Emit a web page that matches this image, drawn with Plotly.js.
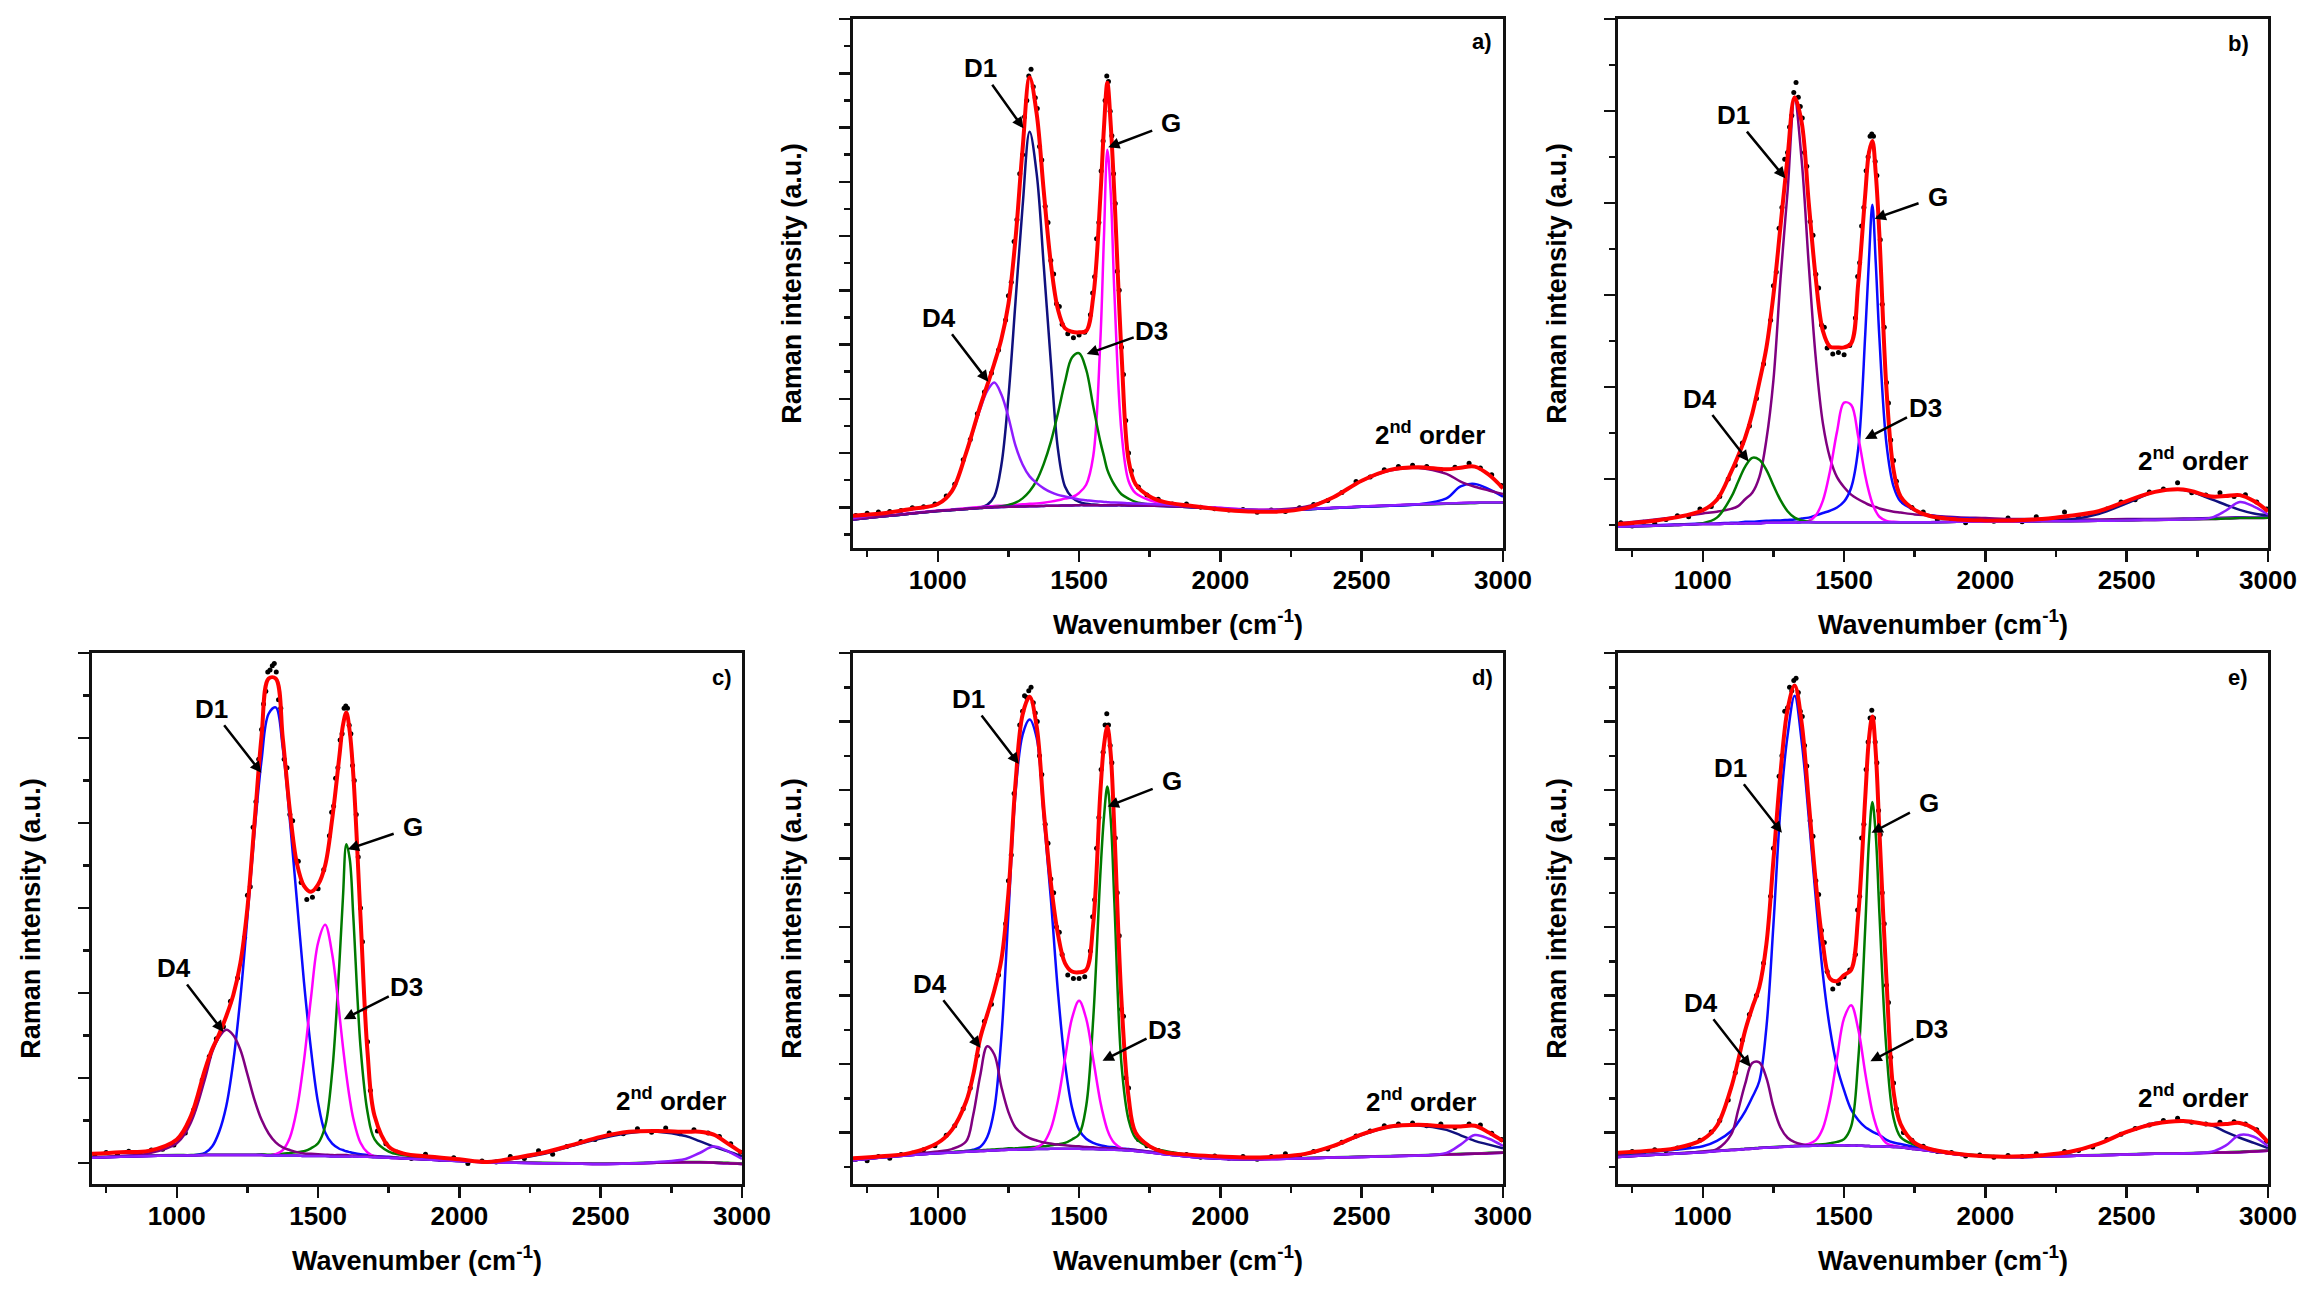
<!DOCTYPE html>
<html>
<head>
<meta charset="utf-8">
<script src="https://cdn.plot.ly/plotly-3.0.1.min.js"></script>
<style>
  html, body { margin: 0; padding: 0; background: #ffffff; }
  #chart { width: 2317px; height: 1294px; }
</style>
</head>
<body>
<div id="chart"></div>
<script>
// Raman spectra (700-3000 cm-1) with peak deconvolution: D4, D1, D3, G and second-order bands.
// Fitted curves are sampled on a common wavenumber grid; band values are heights above the fitted baseline.
const wavenumber = [
  700, 800, 900, 1000, 1050, 1100, 1125, 1150, 1175, 1200,
  1225, 1250, 1275, 1300, 1325, 1350, 1375, 1400, 1425, 1450,
  1475, 1500, 1525, 1550, 1575, 1588, 1600, 1612, 1625, 1650,
  1675, 1700, 1750, 1800, 1900, 2000, 2100, 2200, 2300, 2400,
  2500, 2600, 2700, 2800, 2850, 2900, 2950, 3000];
const tickValues = [1000, 1500, 2000, 2500, 3000];
const tickLabels = ['1000', '1500', '2000', '2500', '3000'];
const minorTickValues = [750, 1250, 1750, 2250, 2750];

// measured points, whole range
const dotWavenumber = [
  710, 750, 790, 830, 870, 910, 950, 990, 1030, 1060,
  1090, 1115, 1140, 1165, 1190, 1215, 1240, 1260, 1280, 1300,
  1315, 1330, 1345, 1360, 1380, 1400, 1420, 1440, 1460, 1480,
  1500, 1520, 1540, 1555, 1570, 1585, 1598, 1610, 1622, 1635,
  1650, 1665, 1685, 1710, 1740, 1780, 1830, 1880, 1930, 1980,
  2030, 2080, 2130, 2180, 2230, 2280, 2330, 2380, 2430, 2480,
  2530, 2580, 2630, 2680, 2730, 2780, 2830, 2880, 2920, 2960,
  2995];
// extra measured points on the flanks of the D1 and G peaks
const peakDotWavenumber = [
  1250, 1270, 1290, 1307, 1322, 1338, 1352, 1368, 1390, 1410,
  1430, 1548, 1562, 1578, 1592, 1604, 1616, 1628, 1642, 1657,
  1675];

// ---------- sample a ----------
const aBase = [
  -0.45, -0.34, -0.24, -0.14, -0.1, -0.06, -0.04, -0.03, -0.01, 0,
  0.01, 0.02, 0.02, 0.03, 0.04, 0.04, 0.05, 0.06, 0.06, 0.07,
  0.07, 0.08, 0.08, 0.08, 0.08, 0.08, 0.08, 0.08, 0.08, 0.08,
  0.07, 0.07, 0.06, 0.05, 0, -0.05, -0.1, -0.11, -0.08, -0.03,
  0.02, 0.06, 0.1, 0.13, 0.15, 0.16, 0.17, 0.17];
const aFit = [
  -0.31, -0.23, -0.07, 0.12, 0.6, 2.0, 2.85, 3.72, 4.5, 5.3,
  6.2, 7.5, 9.9, 13.2, 15.85, 14.5, 11.65, 9.0, 7.3, 6.6,
  6.47, 6.45, 6.5, 7.75, 11.4, 14.0, 15.65, 14.1, 11.5, 5.7,
  1.75, 0.85, 0.4, 0.2, 0.05, -0.08, -0.15, -0.16, -0.04, 0.37,
  0.98, 1.38, 1.48, 1.4, 1.46, 1.5, 1.2, 0.7];
const aD1 = [
  0, 0, 0, 0, 0, 0, 0, 0.02, 0.1, 0.4,
  1.55, 4.05, 7.55, 11.05, 13.8, 12.25, 8.85, 5.3, 2.1, 0.7,
  0.3, 0.12, 0.05, 0.02, 0, 0, 0, 0, 0, 0,
  0, 0, 0, 0, 0, 0, 0, 0, 0, 0,
  0, 0, 0, 0, 0, 0, 0, 0];
const aD4 = [
  0.05, 0.1, 0.15, 0.26, 0.7, 2.06, 2.85, 3.65, 4.3, 4.6,
  4.15, 3.3, 2.25, 1.55, 1.1, 0.85, 0.65, 0.5, 0.4, 0.33,
  0.27, 0.21, 0.18, 0.15, 0.13, 0.12, 0.11, 0.1, 0.1, 0.09,
  0.08, 0.07, 0.06, 0.05, 0.03, 0.02, 0.01, 0.01, 0.01, 0.01,
  0.01, 0.01, 0.01, 0.01, 0.01, 0.01, 0.01, 0.01];
const aD3 = [
  0, 0, 0, 0, 0, 0, 0, 0, 0, 0.01,
  0.03, 0.07, 0.15, 0.3, 0.55, 0.95, 1.55, 2.35, 3.4, 4.55,
  5.45, 5.6, 5.0, 3.65, 2.35, 1.8, 1.3, 1.0, 0.75, 0.4,
  0.25, 0.13, 0.04, 0.01, 0, 0, 0, 0, 0, 0,
  0, 0, 0, 0, 0, 0, 0, 0];
const aG = [
  0.01, 0.01, 0.02, 0.02, 0.02, 0.03, 0.03, 0.04, 0.04, 0.05,
  0.05, 0.06, 0.07, 0.08, 0.09, 0.1, 0.12, 0.15, 0.2, 0.25,
  0.3, 0.45, 0.75, 1.8, 6.0, 9.9, 13.1, 11.5, 7.8, 2.7,
  0.9, 0.45, 0.2, 0.1, 0.05, 0.03, 0.02, 0.02, 0.01, 0.01,
  0.01, 0.01, 0.01, 0.01, 0.01, 0.01, 0.01, 0.01];
const aS1 = [
  0, 0, 0, 0, 0, 0, 0, 0, 0, 0,
  0, 0, 0, 0, 0, 0, 0, 0, 0, 0,
  0, 0, 0, 0, 0, 0, 0, 0, 0, 0,
  0, 0, 0, 0, 0, 0, 0, 0.03, 0.1, 0.4,
  0.95, 1.3, 1.35, 1.1, 0.8, 0.6, 0.45, 0.32];
const aS2 = [
  0, 0, 0, 0, 0, 0, 0, 0, 0, 0,
  0, 0, 0, 0, 0, 0, 0, 0, 0, 0,
  0, 0, 0, 0, 0, 0, 0, 0, 0, 0,
  0, 0, 0, 0, 0, 0, 0, 0, 0, 0,
  0, 0, 0.01, 0.2, 0.62, 0.7, 0.5, 0.22];
const aDots = [
  -0.3, -0.22, -0.17, -0.15, -0.12, -0.02, 0.02, 0.12, 0.42, 0.85,
  1.75, 2.5, 3.45, 4.25, 4.95, 5.8, 6.9, 8.3, 10.6, 13.0,
  15.0, 16.15, 15.1, 13.3, 11.1, 9.1, 7.5, 6.75, 6.4, 6.25,
  6.35, 6.45, 7.1, 8.5, 10.5, 13.5, 15.9, 14.6, 12.3, 8.7,
  5.9, 3.2, 1.35, 0.75, 0.45, 0.3, 0.12, 0.12, 0.0, -0.05,
  -0.1, -0.08, -0.18, -0.1, -0.15, -0.02, 0.1, 0.25, 0.55, 0.95,
  1.12, 1.38, 1.5, 1.55, 1.5, 1.38, 1.48, 1.62, 1.45, 1.2,
  0.8];
const aPeakDots = [
  7.8, 9.8, 12.3, 14.4, 15.9, 15.5, 14.7, 12.8, 10.5, 8.6,
  7.4, 7.9, 9.9, 12.4, 15.0, 15.7, 13.7, 11.2, 8.0, 4.9,
  2.0];

// ---------- sample b ----------
const bBase = [
  -0.04, -0.02, 0, 0.02, 0.02, 0.03, 0.03, 0.04, 0.04, 0.04,
  0.05, 0.05, 0.05, 0.05, 0.05, 0.06, 0.06, 0.06, 0.06, 0.06,
  0.06, 0.06, 0.06, 0.06, 0.06, 0.06, 0.06, 0.06, 0.06, 0.06,
  0.06, 0.06, 0.06, 0.06, 0.07, 0.07, 0.07, 0.08, 0.08, 0.09,
  0.1, 0.11, 0.12, 0.13, 0.14, 0.15, 0.15, 0.16];
const bFit = [
  0.02, 0.07, 0.16, 0.32, 0.55, 1.15, 1.5, 1.9, 2.42, 3.1,
  3.85, 5.0, 6.5, 8.0, 9.3, 8.75, 7.0, 5.35, 4.22, 3.88,
  3.86, 3.86, 3.95, 5.25, 7.2, 8.1, 8.35, 7.65, 6.3, 2.95,
  1.2, 0.62, 0.33, 0.2, 0.12, 0.1, 0.1, 0.13, 0.2, 0.3,
  0.52, 0.72, 0.77, 0.62, 0.63, 0.65, 0.52, 0.3];
const bD1 = [
  0.08, 0.12, 0.17, 0.23, 0.27, 0.32, 0.38, 0.52, 0.66, 1.0,
  1.8, 3.1, 5.3, 7.2, 9.2, 7.86, 5.6, 3.55, 2.15, 1.4,
  0.98, 0.76, 0.6, 0.5, 0.42, 0.38, 0.35, 0.33, 0.3, 0.26,
  0.23, 0.21, 0.17, 0.15, 0.1, 0.08, 0.06, 0.05, 0.04, 0.03,
  0.03, 0.02, 0.02, 0.02, 0.02, 0.02, 0.01, 0.01];
const bD4 = [
  0, 0, 0, 0.02, 0.14, 0.57, 0.91, 1.23, 1.42, 1.38,
  1.15, 0.81, 0.49, 0.25, 0.11, 0.04, 0.01, 0, 0, 0,
  0, 0, 0, 0, 0, 0, 0, 0, 0, 0,
  0, 0, 0, 0, 0, 0, 0, 0, 0, 0,
  0, 0, 0, 0, 0, 0, 0, 0];
const bD3 = [
  0, 0, 0, 0, 0, 0, 0, 0, 0, 0,
  0, 0, 0, 0, 0, 0.01, 0.03, 0.15, 0.47, 1.11,
  1.97, 2.6, 2.55, 1.86, 1.01, 0.66, 0.41, 0.24, 0.12, 0.03,
  0.01, 0, 0, 0, 0, 0, 0, 0, 0, 0,
  0, 0, 0, 0, 0, 0, 0, 0];
const bG = [
  0.01, 0.01, 0.01, 0.01, 0.01, 0.02, 0.02, 0.03, 0.03, 0.04,
  0.04, 0.05, 0.05, 0.06, 0.07, 0.08, 0.1, 0.15, 0.2, 0.25,
  0.32, 0.45, 0.75, 1.6, 4.1, 5.7, 6.9, 5.65, 4.0, 1.7,
  0.78, 0.45, 0.26, 0.16, 0.08, 0.05, 0.03, 0.02, 0.01, 0.01,
  0.01, 0.01, 0.01, 0.01, 0.01, 0.01, 0.01, 0.01];
const bS1 = [
  0, 0, 0, 0, 0, 0, 0, 0, 0, 0,
  0, 0, 0, 0, 0, 0, 0, 0, 0, 0,
  0, 0, 0, 0, 0, 0, 0, 0, 0, 0,
  0, 0, 0, 0, 0, 0, 0, 0.01, 0.04, 0.15,
  0.37, 0.61, 0.64, 0.43, 0.3, 0.18, 0.1, 0.05];
const bS2 = [
  0, 0, 0, 0, 0, 0, 0, 0, 0, 0,
  0, 0, 0, 0, 0, 0, 0, 0, 0, 0,
  0, 0, 0, 0, 0, 0, 0, 0, 0, 0,
  0, 0, 0, 0, 0, 0, 0, 0, 0, 0,
  0, 0, 0, 0.03, 0.17, 0.35, 0.25, 0.07];
const bDots = [
  0.05, -0.02, 0.06, 0.03, 0.12, 0.2, 0.18, 0.35, 0.4, 0.62,
  1.0, 1.3, 1.78, 2.15, 2.75, 3.5, 4.45, 5.5, 6.9, 8.1,
  8.9, 9.62, 9.1, 8.1, 6.6, 5.45, 4.35, 3.85, 3.72, 3.75,
  3.7, 3.9, 4.5, 5.7, 6.9, 8.0, 8.5, 7.9, 6.7, 4.8,
  3.1, 1.85, 0.95, 0.5, 0.38, 0.28, 0.12, 0.1, 0.05, 0.12,
  0.08, 0.15, 0.07, 0.18, 0.12, 0.28, 0.16, 0.25, 0.35, 0.5,
  0.55, 0.72, 0.78, 0.92, 0.7, 0.65, 0.7, 0.62, 0.66, 0.5,
  0.35];
const bPeakDots = [
  5.2, 6.45, 7.95, 8.65, 9.4, 9.3, 8.85, 7.8, 6.3, 5.15,
  4.3, 5.4, 6.5, 7.7, 8.45, 8.45, 7.6, 6.2, 4.3, 2.65,
  1.4];

// ---------- sample c ----------
const cBase = [
  0.12, 0.14, 0.16, 0.17, 0.17, 0.18, 0.18, 0.18, 0.18, 0.18,
  0.18, 0.18, 0.18, 0.18, 0.17, 0.17, 0.17, 0.17, 0.17, 0.16,
  0.16, 0.16, 0.16, 0.15, 0.15, 0.15, 0.15, 0.15, 0.15, 0.14,
  0.14, 0.13, 0.12, 0.1, 0.07, 0.04, 0.01, 0, -0.01, -0.02,
  -0.03, -0.02, 0, 0.01, 0.01, 0, -0.01, -0.03];
const cFit = [
  0.21, 0.25, 0.28, 0.55, 1.1, 2.2, 2.67, 3.03, 3.45, 3.95,
  4.7, 6.0, 8.0, 10.05, 11.4, 11.4, 10.0, 8.3, 7.05, 6.52,
  6.38, 6.55, 7.0, 8.1, 9.55, 10.3, 10.6, 10.15, 9.1, 5.8,
  2.6, 1.1, 0.38, 0.22, 0.14, 0.08, 0.02, 0.12, 0.24, 0.42,
  0.61, 0.73, 0.75, 0.73, 0.73, 0.66, 0.45, 0.23];
const cD1 = [
  0, 0, 0, 0, 0, 0.05, 0.2, 0.55, 1.15, 2.2,
  3.7, 5.6, 7.6, 9.3, 10.4, 10.55, 9.6, 7.9, 6.0, 4.1,
  2.5, 1.25, 0.55, 0.3, 0.18, 0.15, 0.12, 0.1, 0.08, 0.06,
  0.04, 0.03, 0.02, 0.01, 0, 0, 0, 0, 0, 0,
  0, 0, 0, 0, 0, 0, 0, 0];
const cD4 = [
  0.01, 0.02, 0.06, 0.29, 0.78, 1.8, 2.42, 2.78, 2.95, 2.82,
  2.48, 1.9, 1.3, 0.83, 0.52, 0.31, 0.19, 0.13, 0.08, 0.06,
  0.05, 0.04, 0.03, 0.03, 0.03, 0.03, 0.03, 0.02, 0.02, 0.02,
  0.02, 0.02, 0.01, 0.01, 0.01, 0, 0, 0, 0, 0,
  0, 0, 0, 0, 0, 0, 0, 0];
const cD3 = [
  0, 0, 0, 0, 0, 0, 0, 0, 0, 0,
  0, 0, 0, 0, 0, 0.03, 0.13, 0.42, 1.09, 2.24,
  3.73, 5.02, 5.44, 4.76, 3.37, 2.58, 1.92, 1.36, 0.88, 0.33,
  0.1, 0.02, 0, 0, 0, 0, 0, 0, 0, 0,
  0, 0, 0, 0, 0, 0, 0, 0];
const cG = [
  0.01, 0.01, 0.01, 0.01, 0.01, 0.01, 0.01, 0.01, 0.01, 0.01,
  0.01, 0.01, 0.01, 0.02, 0.02, 0.03, 0.04, 0.06, 0.08, 0.11,
  0.18, 0.3, 0.7, 2.0, 4.5, 6.1, 7.35, 7.0, 5.6, 2.6,
  1.05, 0.42, 0.14, 0.08, 0.03, 0.02, 0.01, 0.01, 0.01, 0.01,
  0.01, 0.01, 0.01, 0.01, 0.01, 0.01, 0.01, 0.01];
const cS1 = [
  0, 0, 0, 0, 0, 0, 0, 0, 0, 0,
  0, 0, 0, 0, 0, 0, 0, 0, 0, 0,
  0, 0, 0, 0, 0, 0, 0, 0, 0, 0,
  0, 0, 0, 0, 0, 0, 0.02, 0.1, 0.22, 0.42,
  0.6, 0.72, 0.73, 0.62, 0.5, 0.38, 0.28, 0.18];
const cS2 = [
  0, 0, 0, 0, 0, 0, 0, 0, 0, 0,
  0, 0, 0, 0, 0, 0, 0, 0, 0, 0,
  0, 0, 0, 0, 0, 0, 0, 0, 0, 0,
  0, 0, 0, 0, 0, 0, 0, 0, 0, 0,
  0, 0, 0.02, 0.08, 0.22, 0.38, 0.28, 0.12];
const cDots = [
  0.18, 0.24, 0.2, 0.27, 0.22, 0.3, 0.32, 0.42, 0.7, 1.25,
  1.95, 2.5, 2.92, 3.2, 3.8, 4.35, 5.3, 6.5, 8.5, 10.2,
  11.1, 11.6, 11.75, 10.9, 9.5, 8.2, 7.1, 6.6, 6.2, 6.25,
  6.45, 6.9, 7.7, 8.4, 9.3, 10.1, 10.75, 10.3, 9.35, 8.2,
  6.0, 3.6, 1.7, 0.75, 0.45, 0.25, 0.1, 0.2, 0.08, 0.12,
  -0.02, 0.04, 0.02, 0.15, 0.1, 0.28, 0.2, 0.38, 0.5, 0.55,
  0.7, 0.68, 0.8, 0.72, 0.82, 0.68, 0.78, 0.7, 0.62, 0.45,
  0.25];
const cPeakDots = [
  6.3, 7.9, 9.5, 10.8, 11.55, 11.7, 11.55, 10.7, 9.3, 8.05,
  7.1, 8.25, 9.05, 9.95, 10.7, 10.7, 10.1, 9.0, 7.2, 5.2,
  2.85];

// ---------- sample d ----------
const dBase = [
  0.19, 0.27, 0.34, 0.4, 0.42, 0.44, 0.45, 0.46, 0.47, 0.48,
  0.49, 0.5, 0.5, 0.51, 0.51, 0.52, 0.52, 0.53, 0.53, 0.53,
  0.53, 0.53, 0.52, 0.52, 0.51, 0.51, 0.5, 0.5, 0.5, 0.49,
  0.48, 0.46, 0.42, 0.37, 0.29, 0.24, 0.22, 0.23, 0.25, 0.27,
  0.29, 0.31, 0.33, 0.36, 0.37, 0.38, 0.4, 0.41];
const dFit = [
  0.25, 0.31, 0.4, 0.7, 1.08, 1.9, 2.67, 3.75, 4.45, 5.15,
  6.05, 8.0, 11.2, 13.2, 13.72, 12.85, 10.4, 8.3, 6.8, 5.95,
  5.7, 5.68, 5.75, 7.1, 10.9, 12.3, 12.85, 12.05, 9.8, 4.85,
  2.05, 1.0, 0.6, 0.43, 0.35, 0.3, 0.27, 0.3, 0.38, 0.61,
  0.95, 1.18, 1.23, 1.18, 1.18, 1.2, 1.0, 0.75];
const dD1 = [
  0, 0, 0, 0, 0, 0.02, 0.05, 0.12, 0.4, 1.2,
  3.3, 6.9, 10.4, 12.1, 12.55, 12.0, 9.7, 7.3, 4.6, 2.5,
  1.2, 0.55, 0.3, 0.18, 0.12, 0.1, 0.09, 0.08, 0.07, 0.05,
  0.04, 0.03, 0.02, 0.01, 0, 0, 0, 0, 0, 0,
  0, 0, 0, 0, 0, 0, 0, 0];
const dD4 = [
  0.01, 0.02, 0.03, 0.05, 0.1, 0.3, 1.05, 2.2, 3.05, 2.8,
  1.85, 1.1, 0.65, 0.45, 0.33, 0.25, 0.19, 0.15, 0.12, 0.1,
  0.08, 0.07, 0.06, 0.05, 0.04, 0.04, 0.04, 0.04, 0.04, 0.03,
  0.03, 0.03, 0.02, 0.02, 0.01, 0.01, 0, 0, 0, 0,
  0, 0, 0, 0, 0, 0, 0, 0];
const dD3 = [
  0, 0, 0, 0, 0, 0, 0, 0, 0, 0,
  0, 0, 0, 0, 0.01, 0.05, 0.19, 0.58, 1.4, 2.62,
  3.81, 4.32, 3.81, 2.62, 1.4, 0.92, 0.58, 0.35, 0.19, 0.05,
  0.01, 0, 0, 0, 0, 0, 0, 0, 0, 0,
  0, 0, 0, 0, 0, 0, 0, 0];
const dG = [
  0.01, 0.01, 0.01, 0.01, 0.01, 0.02, 0.02, 0.02, 0.03, 0.03,
  0.03, 0.04, 0.04, 0.05, 0.06, 0.07, 0.08, 0.1, 0.13, 0.17,
  0.27, 0.42, 1.25, 3.8, 8.0, 9.7, 10.6, 9.65, 7.2, 2.5,
  0.9, 0.38, 0.16, 0.1, 0.05, 0.03, 0.02, 0.01, 0.01, 0.01,
  0.01, 0.01, 0.01, 0.01, 0.01, 0.01, 0.01, 0.01];
const dS1 = [
  0, 0, 0, 0, 0, 0, 0, 0, 0, 0,
  0, 0, 0, 0, 0, 0, 0, 0, 0, 0,
  0, 0, 0, 0, 0, 0, 0, 0, 0, 0,
  0, 0, 0, 0, 0, 0, 0, 0.03, 0.12, 0.33,
  0.64, 0.85, 0.88, 0.72, 0.55, 0.38, 0.25, 0.13];
const dS2 = [
  0, 0, 0, 0, 0, 0, 0, 0, 0, 0,
  0, 0, 0, 0, 0, 0, 0, 0, 0, 0,
  0, 0, 0, 0, 0, 0, 0, 0, 0, 0,
  0, 0, 0, 0, 0, 0, 0, 0, 0, 0,
  0, 0, 0, 0.05, 0.28, 0.55, 0.42, 0.2];
const dDots = [
  0.22, 0.18, 0.3, 0.25, 0.36, 0.4, 0.5, 0.62, 0.92, 1.2,
  1.7, 2.3, 3.25, 4.25, 4.75, 5.6, 7.1, 9.1, 11.9, 13.3,
  13.7, 14.0, 13.25, 12.0, 10.0, 8.4, 7.0, 6.2, 5.6, 5.5,
  5.5, 5.55, 6.3, 7.8, 10.2, 12.1, 13.23, 12.3, 10.6, 8.0,
  4.6, 2.6, 1.3, 0.8, 0.62, 0.48, 0.38, 0.36, 0.28, 0.32,
  0.25, 0.3, 0.22, 0.3, 0.38, 0.3, 0.45, 0.52, 0.72, 0.9,
  1.05, 1.2, 1.25, 1.28, 1.2, 1.25, 1.15, 1.25, 1.22, 0.98,
  0.8];
const dPeakDots = [
  8.35, 10.9, 12.9, 13.75, 13.9, 13.55, 13.0, 11.45, 9.45, 8.0,
  6.85, 7.3, 9.3, 11.6, 12.9, 12.9, 11.8, 9.6, 6.75, 4.4,
  2.3];

// ---------- sample e ----------
const eBase = [
  0.29, 0.34, 0.38, 0.43, 0.46, 0.49, 0.5, 0.52, 0.53, 0.55,
  0.56, 0.57, 0.58, 0.59, 0.6, 0.61, 0.61, 0.62, 0.62, 0.63,
  0.63, 0.63, 0.62, 0.62, 0.61, 0.61, 0.6, 0.6, 0.6, 0.59,
  0.58, 0.57, 0.52, 0.47, 0.36, 0.31, 0.29, 0.3, 0.32, 0.34,
  0.36, 0.38, 0.39, 0.41, 0.42, 0.43, 0.45, 0.47];
const eFit = [
  0.41, 0.46, 0.54, 0.8, 1.2, 2.3, 3.1, 3.98, 4.65, 5.25,
  6.5, 8.95, 11.5, 13.35, 14.05, 12.95, 10.65, 8.3, 6.5, 5.5,
  5.42, 5.6, 5.75, 7.35, 10.8, 12.5, 13.15, 12.1, 9.8, 5.45,
  2.2, 1.25, 0.7, 0.53, 0.38, 0.31, 0.3, 0.34, 0.44, 0.67,
  1.02, 1.26, 1.34, 1.23, 1.25, 1.28, 1.12, 0.72];
const eD1 = [
  0.05, 0.08, 0.12, 0.17, 0.3, 0.55, 0.8, 1.1, 1.5, 1.95,
  3.5, 6.5, 9.9, 12.0, 13.15, 11.8, 9.6, 7.2, 5.0, 3.4,
  2.3, 1.6, 1.05, 0.75, 0.55, 0.48, 0.43, 0.38, 0.33, 0.2,
  0.13, 0.1, 0.06, 0.04, 0.02, 0.01, 0, 0, 0, 0,
  0, 0, 0, 0, 0, 0, 0, 0];
const eD4 = [
  0, 0, 0.01, 0.02, 0.06, 0.45, 1.15, 1.9, 2.5, 2.5,
  2.04, 1.18, 0.57, 0.26, 0.12, 0.05, 0.02, 0.01, 0, 0,
  0, 0, 0, 0, 0, 0, 0, 0, 0, 0,
  0, 0, 0, 0, 0, 0, 0, 0, 0, 0,
  0, 0, 0, 0, 0, 0, 0, 0];
const eD3 = [
  0, 0, 0, 0, 0, 0, 0, 0, 0, 0,
  0, 0, 0, 0, 0.01, 0.02, 0.06, 0.16, 0.51, 1.31,
  2.54, 3.71, 4.1, 3.4, 2.12, 1.5, 1.0, 0.64, 0.36, 0.1,
  0.04, 0.01, 0, 0, 0, 0, 0, 0, 0, 0,
  0, 0, 0, 0, 0, 0, 0, 0];
const eG = [
  0.01, 0.01, 0.01, 0.01, 0.01, 0.01, 0.01, 0.01, 0.01, 0.01,
  0.01, 0.01, 0.01, 0.01, 0.02, 0.02, 0.02, 0.03, 0.04, 0.06,
  0.1, 0.18, 0.56, 2.5, 6.4, 8.9, 10.05, 9.1, 6.8, 2.8,
  0.85, 0.3, 0.12, 0.06, 0.03, 0.02, 0.01, 0.01, 0.01, 0.01,
  0.01, 0.01, 0.01, 0.01, 0.01, 0.01, 0.01, 0.01];
const eS1 = [
  0, 0, 0, 0, 0, 0, 0, 0, 0, 0,
  0, 0, 0, 0, 0, 0, 0, 0, 0, 0,
  0, 0, 0, 0, 0, 0, 0, 0, 0, 0,
  0, 0, 0, 0, 0, 0, 0, 0, 0.1, 0.33,
  0.65, 0.9, 0.93, 0.8, 0.6, 0.42, 0.25, 0.08];
const eS2 = [
  0, 0, 0, 0, 0, 0, 0, 0, 0, 0,
  0, 0, 0, 0, 0, 0, 0, 0, 0, 0,
  0, 0, 0, 0, 0, 0, 0, 0, 0, 0,
  0, 0, 0, 0, 0, 0, 0, 0, 0, 0,
  0, 0, 0, 0.03, 0.2, 0.5, 0.43, 0.13];
const eDots = [
  0.38, 0.45, 0.42, 0.5, 0.47, 0.55, 0.6, 0.78, 1.02, 1.35,
  1.95, 2.75, 3.7, 4.45, 5.0, 5.95, 7.9, 10.0, 12.0, 13.4,
  13.9, 14.26, 13.3, 12.3, 10.1, 8.35, 6.9, 5.7, 5.19, 5.35,
  5.55, 5.75, 6.2, 7.9, 10.0, 12.4, 13.33, 12.4, 10.4, 8.0,
  5.3, 3.2, 1.7, 1.0, 0.78, 0.6, 0.45, 0.42, 0.32, 0.35,
  0.28, 0.33, 0.3, 0.38, 0.33, 0.45, 0.48, 0.58, 0.8, 0.95,
  1.12, 1.22, 1.35, 1.42, 1.3, 1.25, 1.3, 1.32, 1.25, 1.08,
  0.75];
const ePeakDots = [
  9.3, 11.4, 13.3, 14.0, 14.2, 13.85, 13.15, 11.7, 9.65, 7.95,
  6.55, 7.5, 9.6, 11.6, 13.1, 13.1, 11.8, 9.7, 7.1, 4.8,
  2.45];

// ---------- styling and layout ----------
const FONT = 'Liberation Sans, Arial, Helvetica, sans-serif';
const W = 2317, H = 1294;
const INK = '#111111';
const NAVY = '#10107e', BLUE = '#0a0aff', GREEN = '#007a00', MAGENTA = '#ff00ff',
      PURPLE = '#800080', VIOLET = '#8f1cff', RED = '#ff0000';
const boldFont = (size) => ({ family: FONT, size: size, color: '#000000', weight: 'bold' });

const panels = [
  { label: 'a)', box: [853, 19, 1503, 548], yRange: [-1.5, 18], yTick0: 0, labelInset: [21, 23],
    base: aBase, fit: aFit, dots: aDots, peakDots: aPeakDots,
    bands: [[aD1, NAVY], [aG, MAGENTA], [aD3, GREEN], [aS2, BLUE], [aS1, PURPLE], [aD4, VIOLET]],
    arrows: [['D1', 1303, 13.97, -43, -60], ['G', 1603, 13.27, 63, -24], ['D4', 1179, 4.63, -49, -64], ['D3', 1527, 5.65, 65, -23]],
    second: [2743, 2.72] },
  { label: 'b)', box: [1618, 19, 2268, 548], yRange: [-0.5, 11], yTick0: 1, labelInset: [30, 25],
    base: bBase, fit: bFit, dots: bDots, peakDots: bPeakDots,
    bands: [[bD1, PURPLE], [bG, BLUE], [bD3, MAGENTA], [bD4, GREEN], [bS1, NAVY], [bS2, VIOLET]],
    arrows: [['D1', 1292, 7.54, -52, -63], ['G', 1608, 6.66, 63, -22], ['D4', 1162, 1.38, -49, -63], ['D3', 1574, 1.87, 60, -31]],
    second: [2736, 1.42] },
  { label: 'c)', box: [92, 653, 742, 1184], yRange: [-0.5, 12], yTick0: 0, labelInset: [20, 24],
    base: cBase, fit: cFit, dots: cDots, peakDots: cPeakDots,
    bands: [[cD1, BLUE], [cG, GREEN], [cD3, MAGENTA], [cD4, PURPLE], [cS1, NAVY], [cS2, VIOLET]],
    arrows: [['D1', 1299, 9.18, -50, -64], ['G', 1605, 7.38, 65, -22], ['D4', 1165, 3.08, -49, -64], ['D3', 1591, 3.38, 63, -32]],
    second: [2748, 1.48] },
  { label: 'd)', box: [853, 653, 1503, 1184], yRange: [-0.5, 15], yTick0: 1, labelInset: [21, 24],
    base: dBase, fit: dFit, dots: dDots, peakDots: dPeakDots,
    bands: [[dD1, BLUE], [dG, GREEN], [dD3, MAGENTA], [dD4, PURPLE], [dS1, NAVY], [dS2, VIOLET]],
    arrows: [['D1', 1287, 11.76, -50, -65], ['G', 1601, 10.52, 64, -25], ['D4', 1151, 3.48, -50, -64], ['D3', 1583, 3.1, 62, -31]],
    second: [2710, 1.93] },
  { label: 'e)', box: [1618, 653, 2268, 1184], yRange: [-0.5, 15], yTick0: 1, labelInset: [30, 24],
    base: eBase, fit: eFit, dots: eDots, peakDots: ePeakDots,
    bands: [[eD1, BLUE], [eG, GREEN], [eD3, MAGENTA], [eD4, PURPLE], [eS1, NAVY], [eS2, VIOLET]],
    arrows: [['D1', 1280, 9.75, -51, -65], ['G', 1597, 9.75, 57, -30], ['D4', 1169, 2.92, -50, -64], ['D3', 1593, 3.08, 61, -32]],
    second: [2736, 2.05] }
];

// each fitted band is drawn sitting on the fitted baseline
function onBaseline(band, base) { return band.map((v, i) => v + base[i]); }

const traces = [];
const annotations = [];
const layout = {
  width: W, height: H,
  margin: { l: 0, r: 0, t: 0, b: 0 },
  paper_bgcolor: '#ffffff', plot_bgcolor: '#ffffff',
  showlegend: false,
  font: { family: FONT, color: '#000000' }
};

panels.forEach((p, k) => {
  const n = k === 0 ? '' : String(k + 1);
  const xa = 'x' + n, ya = 'y' + n;
  const [x0, y0, x1, y1] = p.box;

  layout['xaxis' + n] = {
    domain: [x0 / W, x1 / W], anchor: ya,
    range: [700, 3000],
    tickmode: 'array', tickvals: tickValues, ticktext: tickLabels,
    ticks: 'outside', ticklen: 11, tickwidth: 2.5, tickcolor: INK,
    ticklabelstandoff: -4,
    minor: { tickmode: 'array', tickvals: minorTickValues, ticks: 'outside', ticklen: 6, tickwidth: 2.5, tickcolor: INK, showgrid: false },
    showline: true, linewidth: 3, linecolor: INK, mirror: true,
    showgrid: false, zeroline: false,
    tickfont: boldFont(26),
    title: { text: 'Wavenumber (cm<sup>-1</sup>)', font: boldFont(27), standoff: 21 }
  };
  layout['yaxis' + n] = {
    domain: [1 - y1 / H, 1 - y0 / H], anchor: xa,
    range: p.yRange,
    tickmode: 'linear', tick0: p.yTick0, dtick: 2,
    ticks: 'outside', ticklen: 11, tickwidth: 2.5, tickcolor: INK,
    minor: { tickmode: 'linear', tick0: 0, dtick: 1, ticks: 'outside', ticklen: 6, tickwidth: 2.5, tickcolor: INK, showgrid: false },
    showticklabels: false,
    showline: true, linewidth: 3, linecolor: INK, mirror: true,
    showgrid: false, zeroline: false,
    title: { text: 'Raman intensity (a.u.)', font: boldFont(27), standoff: 30 }
  };

  // measured spectrum
  [[dotWavenumber, p.dots], [peakDotWavenumber, p.peakDots]].forEach(([xs, ys]) => {
    traces.push({
      type: 'scatter', mode: 'markers', x: xs, y: ys, xaxis: xa, yaxis: ya,
      marker: { color: '#000000', size: 5 }, hoverinfo: 'skip'
    });
  });
  // fitted bands
  p.bands.forEach(([band, color]) => {
    traces.push({
      type: 'scatter', mode: 'lines', x: wavenumber, y: onBaseline(band, p.base), xaxis: xa, yaxis: ya,
      line: { color: color, width: 2.5, shape: 'spline', smoothing: 1 }, hoverinfo: 'skip'
    });
  });
  // cumulative fit
  traces.push({
    type: 'scatter', mode: 'lines', x: wavenumber, y: p.fit, xaxis: xa, yaxis: ya,
    line: { color: RED, width: 4, shape: 'spline', smoothing: 1 }, hoverinfo: 'skip'
  });

  // band labels with arrows
  p.arrows.forEach(([name, tx, ty, dx, dy]) => {
    annotations.push({
      xref: xa, yref: ya, x: tx, y: ty, ax: dx, ay: dy,
      text: name, showarrow: true,
      arrowhead: 2, arrowsize: 0.9, arrowwidth: 2.5, arrowcolor: '#000000',
      standoff: 0, startstandoff: name === 'G' ? 8 : 0,
      font: boldFont(26)
    });
  });
  annotations.push({
    xref: xa, yref: ya, x: p.second[0], y: p.second[1], showarrow: false,
    text: '2<sup>nd</sup> order',
    font: boldFont(26)
  });
  annotations.push({
    xref: xa + ' domain', yref: ya + ' domain',
    x: 1 - p.labelInset[0] / (x1 - x0), y: 1 - p.labelInset[1] / (y1 - y0),
    xanchor: 'center', yanchor: 'middle', showarrow: false,
    text: p.label,
    font: boldFont(22)
  });
});

layout.annotations = annotations;
Plotly.newPlot('chart', traces, layout, { staticPlot: true, displayModeBar: false });
</script>
</body>
</html>
